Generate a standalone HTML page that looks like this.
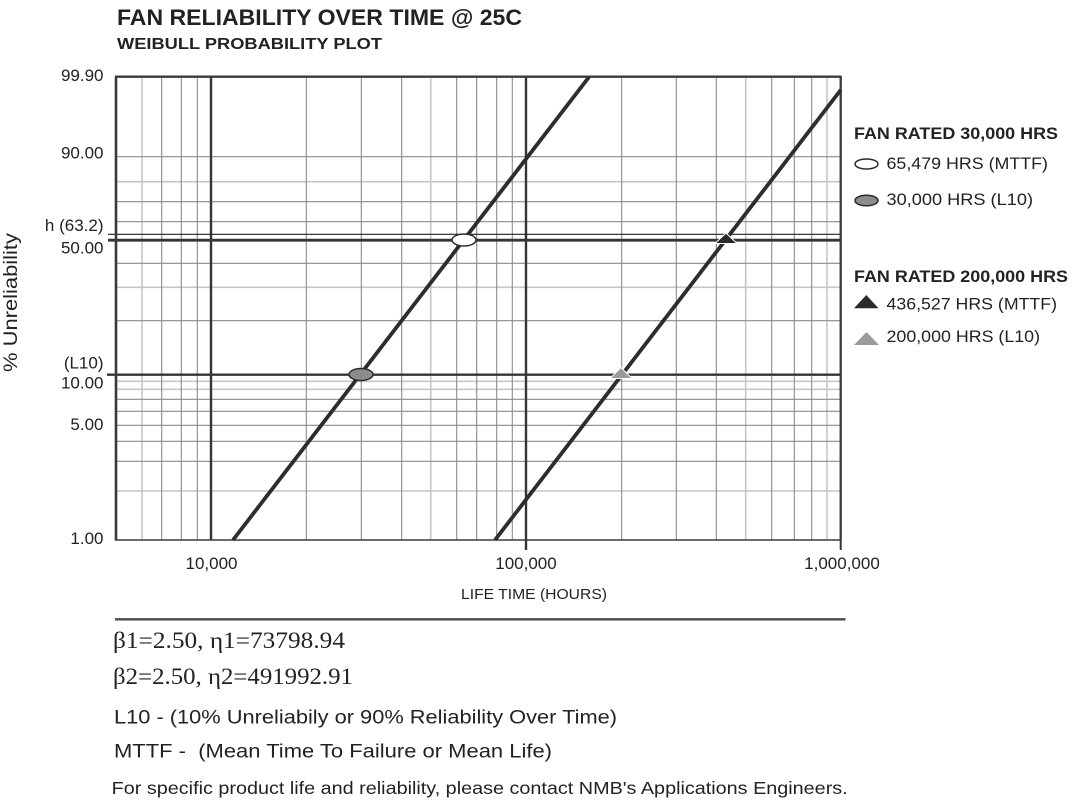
<!DOCTYPE html>
<html>
<head>
<meta charset="utf-8">
<style>
html,body{margin:0;padding:0;background:#fff;}
svg{display:block;}
text{font-family:"Liberation Sans",Arial,sans-serif;fill:#222;}
.serif{font-family:"Liberation Serif","Times New Roman",serif;}
</style>
</head>
<body>
<svg width="1074" height="803" viewBox="0 0 1074 803" xmlns="http://www.w3.org/2000/svg">
<rect x="0" y="0" width="1074" height="803" fill="#fff"/>

<!-- Title -->
<text x="117" y="25" font-size="22" font-weight="bold" textLength="405" lengthAdjust="spacingAndGlyphs">FAN RELIABILITY OVER TIME @ 25C</text>
<text x="117" y="49" font-size="15.5" font-weight="bold" textLength="265" lengthAdjust="spacingAndGlyphs">WEIBULL PROBABILITY PLOT</text>

<!-- light grid lines -->
<g stroke="#c6c6c6" stroke-width="1.6">
  <line x1="142" y1="77" x2="142" y2="540"/>
  <line x1="430.7" y1="77" x2="430.7" y2="540"/>
  <line x1="745.7" y1="77" x2="745.7" y2="540"/>
  <line x1="827" y1="77" x2="827" y2="540"/>
  <line x1="116" y1="181.7" x2="840" y2="181.7"/>
  <line x1="116" y1="287.3" x2="840" y2="287.3"/>
  <line x1="116" y1="381.3" x2="840" y2="381.3"/>
  <line x1="116" y1="389.3" x2="840" y2="389.3"/>
  <line x1="116" y1="491" x2="840" y2="491"/>
</g>

<!-- dark thin grid lines -->
<g stroke="#8a8a8a" stroke-width="1.1">
  <line x1="161.7" y1="77" x2="161.7" y2="540"/>
  <line x1="181.3" y1="77" x2="181.3" y2="540"/>
  <line x1="197.3" y1="77" x2="197.3" y2="540"/>
  <line x1="306.3" y1="77" x2="306.3" y2="540"/>
  <line x1="361.3" y1="77" x2="361.3" y2="540"/>
  <line x1="401.7" y1="77" x2="401.7" y2="540"/>
  <line x1="456.7" y1="77" x2="456.7" y2="540"/>
  <line x1="476.7" y1="77" x2="476.7" y2="540"/>
  <line x1="496.7" y1="77" x2="496.7" y2="540"/>
  <line x1="512.3" y1="77" x2="512.3" y2="540"/>
  <line x1="621.7" y1="77" x2="621.7" y2="540"/>
  <line x1="676.3" y1="77" x2="676.3" y2="540"/>
  <line x1="716.3" y1="77" x2="716.3" y2="540"/>
  <line x1="771.7" y1="77" x2="771.7" y2="540"/>
  <line x1="794.3" y1="77" x2="794.3" y2="540"/>
  <line x1="811.7" y1="77" x2="811.7" y2="540"/>

  <line x1="116" y1="156.7" x2="840" y2="156.7"/>
  <line x1="116" y1="201.7" x2="840" y2="201.7"/>
  <line x1="116" y1="221.7" x2="840" y2="221.7"/>
  <line x1="116" y1="263.3" x2="840" y2="263.3"/>
  <line x1="116" y1="320.7" x2="840" y2="320.7"/>
  <line x1="116" y1="399.3" x2="840" y2="399.3"/>
  <line x1="116" y1="411.3" x2="840" y2="411.3"/>
  <line x1="116" y1="425.3" x2="840" y2="425.3"/>
  <line x1="116" y1="441.3" x2="840" y2="441.3"/>
  <line x1="116" y1="461.3" x2="840" y2="461.3"/>
</g>

<!-- thick grid lines -->
<g stroke="#353535">
  <line x1="211" y1="77" x2="211" y2="540" stroke-width="2.4"/>
  <line x1="526" y1="77" x2="526" y2="550" stroke-width="2.4"/>
  <line x1="840.7" y1="540" x2="840.7" y2="550" stroke-width="2"/>
  <line x1="108" y1="234.3" x2="840" y2="234.3" stroke-width="1.2" stroke="#222"/>
  <line x1="108" y1="240.2" x2="840" y2="240.2" stroke-width="2.8"/>
  <line x1="107" y1="374.7" x2="840" y2="374.7" stroke-width="2.4"/>
</g>

<!-- frame -->
<g stroke="#3a3a3a" fill="none">
  <line x1="116" y1="76.7" x2="116" y2="540.5" stroke-width="2.6"/>
  <line x1="115" y1="76.7" x2="841.5" y2="76.7" stroke-width="2.3"/>
  <line x1="840.7" y1="76" x2="840.7" y2="540.5" stroke-width="2.3"/>
  <line x1="115" y1="540" x2="841.5" y2="540" stroke-width="1.6"/>
</g>

<!-- diagonal Weibull lines -->
<g stroke="#2d2d2d" stroke-width="3.8" stroke-linecap="butt">
  <line x1="233" y1="540" x2="589" y2="77"/>
  <line x1="495" y1="540" x2="840.7" y2="90"/>
</g>

<!-- plot markers -->
<ellipse cx="464" cy="240" rx="12" ry="6" fill="#fff" stroke="#2a2a2a" stroke-width="1.5"/>
<ellipse cx="361" cy="374.5" rx="12" ry="6" fill="#8c8c8c" stroke="#2a2a2a" stroke-width="1.5"/>
<polygon points="715,243.5 737,243.5 726,233" fill="#2a2a2a" stroke="#fff" stroke-width="1"/>
<polygon points="610,378.5 632,378.5 621,367.5" fill="#9a9a9a" stroke="#fff" stroke-width="1"/>

<!-- Y tick labels -->
<g font-size="17" text-anchor="end">
  <text x="103.5" y="81">99.90</text>
  <text x="103.5" y="158.7">90.00</text>
  <text x="103.5" y="231">h (63.2)</text>
  <text x="103.5" y="253.3">50.00</text>
  <text x="103.5" y="368.5">(L10)</text>
  <text x="103.5" y="388.3">10.00</text>
  <text x="103.5" y="430">5.00</text>
  <text x="103.5" y="544">1.00</text>
</g>

<!-- Y axis title -->
<text transform="translate(17,302.5) rotate(-90)" font-size="19" text-anchor="middle" textLength="139" lengthAdjust="spacingAndGlyphs">% Unreliability</text>

<!-- X tick labels -->
<g font-size="17" text-anchor="middle">
  <text x="211.5" y="569">10,000</text>
  <text x="526" y="569">100,000</text>
  <text x="842" y="569">1,000,000</text>
</g>
<text x="534" y="599" font-size="14.5" text-anchor="middle" textLength="146" lengthAdjust="spacingAndGlyphs">LIFE TIME (HOURS)</text>

<!-- Legend -->
<text x="854" y="139" font-size="17" font-weight="bold" textLength="204" lengthAdjust="spacingAndGlyphs">FAN RATED 30,000 HRS</text>
<ellipse cx="866.5" cy="164" rx="11.5" ry="5" fill="#fff" stroke="#2a2a2a" stroke-width="1.5"/>
<text x="886.5" y="169" font-size="16.5" textLength="161.5" lengthAdjust="spacingAndGlyphs">65,479 HRS (MTTF)</text>
<ellipse cx="866.5" cy="200.5" rx="11.5" ry="5.3" fill="#8c8c8c" stroke="#2a2a2a" stroke-width="1.5"/>
<text x="886.5" y="205" font-size="16.5" textLength="146.5" lengthAdjust="spacingAndGlyphs">30,000 HRS (L10)</text>

<text x="854" y="282" font-size="17" font-weight="bold" textLength="214" lengthAdjust="spacingAndGlyphs">FAN RATED 200,000 HRS</text>
<polygon points="854,308.3 878.5,308.3 866.3,295" fill="#2a2a2a"/>
<text x="886.5" y="309.5" font-size="16.5" textLength="170.5" lengthAdjust="spacingAndGlyphs">436,527 HRS (MTTF)</text>
<polygon points="854,345 879,345 866.5,332" fill="#9a9a9a"/>
<text x="886.5" y="342" font-size="16.5" textLength="153.5" lengthAdjust="spacingAndGlyphs">200,000 HRS (L10)</text>

<!-- separator -->
<line x1="115" y1="619.3" x2="845.5" y2="619.3" stroke="#4a4a4a" stroke-width="2.4"/>

<!-- Parameters -->
<text class="serif" x="113" y="648" font-size="23" textLength="232" lengthAdjust="spacingAndGlyphs">β1=2.50, η1=73798.94</text>
<text class="serif" x="113" y="684" font-size="23" textLength="240" lengthAdjust="spacingAndGlyphs">β2=2.50, η2=491992.91</text>

<!-- Notes -->
<text x="114" y="723.3" font-size="19" textLength="503" lengthAdjust="spacingAndGlyphs">L10 - (10% Unreliabily or 90% Reliability Over Time)</text>
<text x="114" y="757.3" font-size="19" style="white-space:pre" textLength="438" lengthAdjust="spacingAndGlyphs">MTTF -  (Mean Time To Failure or Mean Life)</text>
<text x="111.7" y="794" font-size="17.5" textLength="736" lengthAdjust="spacingAndGlyphs">For specific product life and reliability, please contact NMB's Applications Engineers.</text>
</svg>
</body>
</html>
